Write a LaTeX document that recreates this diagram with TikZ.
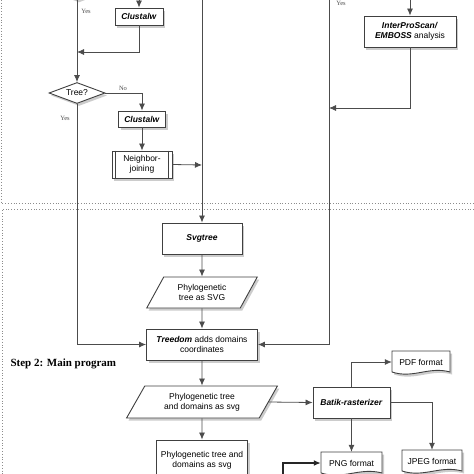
\documentclass[tikz,border=0pt]{standalone}
\usepackage{fontspec}
\setmainfont{Liberation Serif}
\setsansfont{Liberation Sans}
\usetikzlibrary{calc,arrows.meta,shapes.geometric,shadows}

\begin{document}
\begin{tikzpicture}[x=1pt,y=-1pt,
  line/.style={draw=black!70,line width=.8pt},
  arr/.style={line,-{Latex[length=7pt,width=6pt]}},
  shd/.style={drop shadow={shadow xshift=2pt,shadow yshift=-2.5pt,opacity=.4}},
  proc/.style={rectangle,draw=black!75,line width=.9pt,fill=white,shd,align=center,
    font=\sffamily\fontsize{8.5}{10}\selectfont,inner sep=2pt},
  data/.style={proc,trapezium,trapezium left angle=60,trapezium right angle=120,
    trapezium stretches=true},
  dec/.style={proc,diamond,aspect=2.8,inner sep=1pt},
  doc/.style={align=center,font=\sffamily\fontsize{8.5}{10}\selectfont,inner sep=1pt},
  docline/.style={draw=black!75,line width=.9pt,fill=white,shd},
  lab/.style={font=\fontsize{6.5}{7}\selectfont,text=black!70},
  frame/.style={draw=black!45,dotted,line width=.8pt}]
\useasboundingbox (0,0) rectangle (474,474);
\clip (0,0) rectangle (474,474);

% step 1 frame
\draw[frame] (1,0) -- (1,203) -- (474,203);
\draw[frame] (474,209) -- (2,209) -- (2,474);

% step 1
\node[dec,minimum width=56,minimum height=22] (top) at (77,-11) {};
\node[proc,minimum width=48,minimum height=17] (c1) at (139,16.5) {\textbf{\textit{Clustalw}}};
\node[dec,minimum width=56,minimum height=21] (tree) at (77,93) {Tree?};
\node[proc,minimum width=47,minimum height=16] (c2) at (142,119) {\textbf{\textit{Clustalw}}};
\node[proc,minimum width=60,minimum height=27] (nj) at (142,164.5) {Neighbor-\\joining};
\draw[draw=black!75,line width=.9pt] ($(nj.north west)+(4,0)$) -- ($(nj.south west)+(4,0)$);
\draw[draw=black!75,line width=.9pt] ($(nj.north east)+(-4,0)$) -- ($(nj.south east)+(-4,0)$);
\node[proc,minimum width=92,minimum height=31] (ips) at (410,31.5)
  {\textbf{\textit{InterProScan/}}\\\textbf{\textit{EMBOSS}} analysis};

\node[lab] (yes1) at (86,11) {Yes};
\node[lab] (no1) at (123,88) {No};
\node[lab] (yes2) at (65,118) {Yes};
\node[lab] (yes3) at (341,3) {Yes};

\coordinate (in1) at (139,-2);
\coordinate (in2) at (202,-2);
\coordinate (in3) at (329,-2);
\coordinate (in4) at (410,-2);
\coordinate (m1) at (77,52);
\coordinate (m2) at (202,165);
\coordinate (m3) at (329,108);

\draw[arr] (in1) -- (c1.north);
\draw[arr] (top.south) -- (tree.north);
\draw[arr] (c1.south) |- (m1);
\draw[arr] (tree.east) -| (c2.north);
\draw[arr] (c2.south) -- (nj.north);
\draw[arr] (nj.east) -- (m2);
\draw[arr] (in4) -- (ips.north);
\draw[arr] (ips.south) |- (m3);

% step 2
\node[anchor=west,font=\bfseries\fontsize{11}{13}\selectfont] (step) at (7,364) {Step 2: Main program};
\node[proc,minimum width=80,minimum height=31] (svg) at (202,238.5) {\textbf{\textit{Svgtree}}};
\node[data,minimum width=111,minimum height=31] (p1) at (202,292.5) {Phylogenetic\\tree as SVG};
\node[proc,minimum width=111,minimum height=31] (treedom) at (202,344.5)
  {\textbf{\textit{Treedom}} adds domains\\coordinates};
\node[data,minimum width=151,minimum height=32] (p2) at (202,402) {Phylogenetic tree\\and domains as svg};
\node[proc,minimum width=91,minimum height=40] (box3) at (202,460) {Phylogenetic tree and\\domains as svg};
\node[proc,minimum width=77,minimum height=31] (batik) at (351.5,402.5) {\textbf{\textit{Batik-rasterizer}}};

\foreach \x/\y/\w in {421/362/29, 351.5/463/30.5, 432/461/30}
  \draw[docline] (\x-\w,\y-11) -- (\x+\w,\y-11) -- (\x+\w,\y+10)
    .. controls (\x+8,\y+4) and (\x-8,\y+17) .. (\x-\w,\y+10) -- cycle;
\node[doc,minimum width=58,minimum height=22] (pdf) at (421,362) {PDF format};
\node[doc,minimum width=61,minimum height=22] (png) at (351.5,463) {PNG format};
\node[doc,minimum width=60,minimum height=22] (jpeg) at (432,461) {JPEG format};

\coordinate (thk) at (283,480);

\draw[arr] (in2) -- (svg.north);
\draw[arr] (in3) |- (treedom.east);
\draw[arr] (tree.south) |- (treedom.west);
\draw[arr] (svg.south) -- (p1.north);
\draw[arr] (p1.south) -- (treedom.north);
\draw[arr] (treedom.south) -- (p2.north);
\draw[arr] (p2.south) -- (box3.north);
\draw[arr] (p2.east) -- (batik.west);
\draw[arr] (batik.north) |- (pdf.west);
\draw[arr] (batik.south) -- (png.north);
\draw[arr] (batik.east) -| (jpeg.north);
\draw[arr,line width=1.8pt,draw=black!85] (thk) |- (png.west);
\end{tikzpicture}
\end{document}
